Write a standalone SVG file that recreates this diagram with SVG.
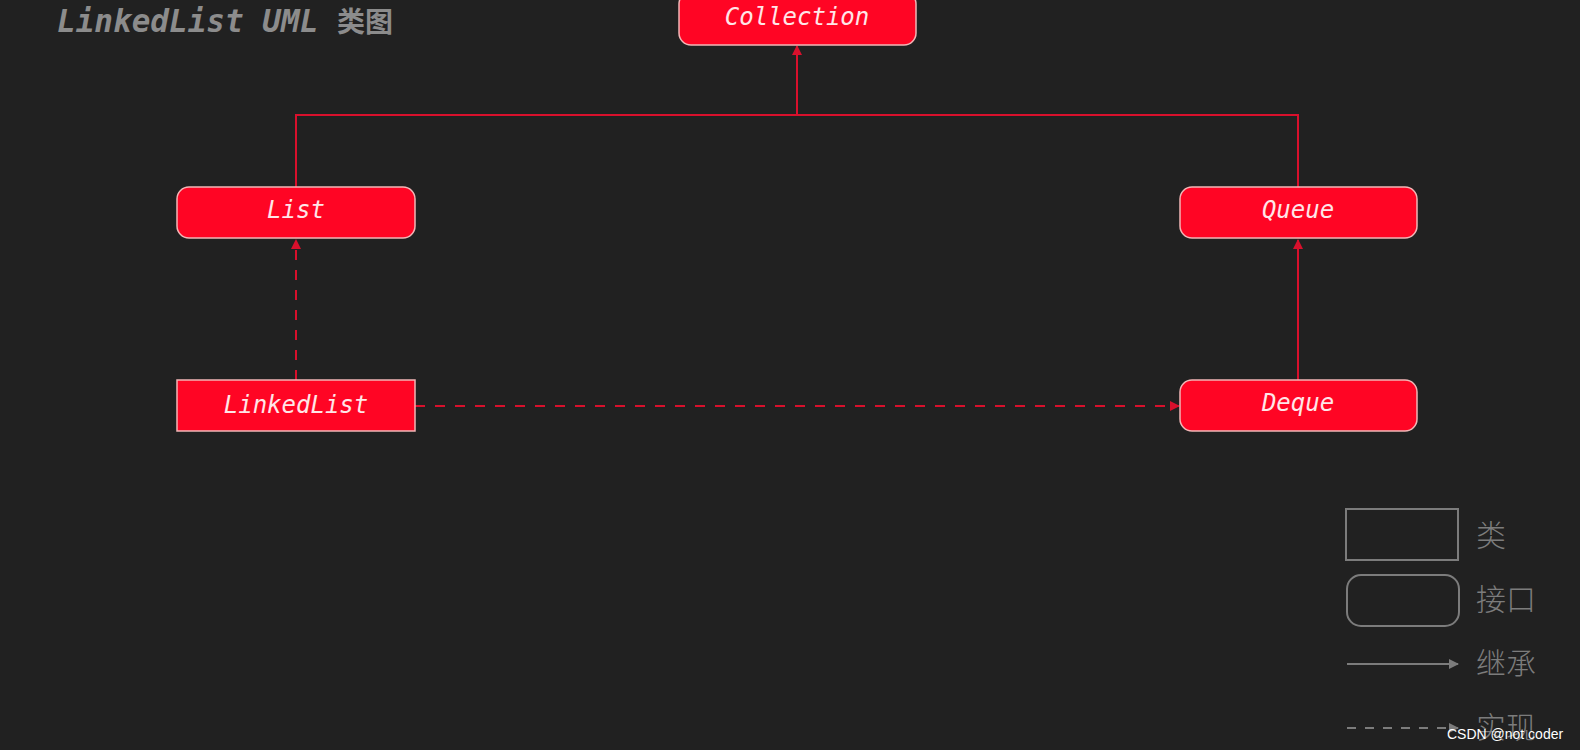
<svg xmlns="http://www.w3.org/2000/svg" width="1580" height="750" viewBox="0 0 1580 750">
<style>
.node{fill:#ff0524;stroke:#f2b6b6;stroke-width:1.5}
.lbl{font-family:"DejaVu Sans Mono","Liberation Mono",monospace;font-style:italic;font-size:24px;fill:#ffe6e8;text-anchor:middle}
.edge{stroke:#d8102c;stroke-width:2;fill:none}
.dash{stroke-dasharray:10 10}
.leg{stroke:#7c7c7c;stroke-width:2;fill:none}
.legt{font-family:"Noto Sans CJK SC","Noto Sans",sans-serif;font-weight:300;font-size:30px;fill:#7c7c7c}
</style>
<defs>
<marker id="ah" viewBox="0 0 10 10" refX="9" refY="5" markerWidth="5" markerHeight="5" orient="auto" markerUnits="strokeWidth">
<path d="M0,0 L10,5 L0,10 z" fill="#d8102c"/>
</marker>
<marker id="lah" viewBox="0 0 10 10" refX="9" refY="5" markerWidth="5" markerHeight="5" orient="auto" markerUnits="strokeWidth">
<path d="M0,0 L10,5 L0,10 z" fill="#7c7c7c"/>
</marker>
</defs>
<rect width="1580" height="750" fill="#212121"/>
<text x="57" y="32" font-family="DejaVu Sans Mono,'Noto Sans CJK SC',monospace" font-weight="bold" font-style="italic" font-size="31" fill="#8c8c8c">LinkedList UML</text>
<text x="337" y="32" font-family="'Noto Sans CJK SC',sans-serif" font-weight="bold" font-size="28" fill="#8c8c8c">类图</text>
<g id="connectors">
<path class="edge" d="M296,187 V115 H1298 V187"/>
<path class="edge" d="M797,115 V46" marker-end="url(#ah)"/>
<path class="edge dash" d="M296,380 V240" marker-end="url(#ah)"/>
<path class="edge dash" d="M415,406 H1179" marker-end="url(#ah)"/>
<path class="edge" d="M1298,380 V240" marker-end="url(#ah)"/>
</g>
<g id="Collection">
<rect class="node" x="679" y="-8" width="237" height="53" rx="12"/>
<text class="lbl" x="797" y="25">Collection</text>
</g>
<g id="List">
<rect class="node" x="177" y="187" width="238" height="51" rx="12"/>
<text class="lbl" x="296" y="218">List</text>
</g>
<g id="Queue">
<rect class="node" x="1180" y="187" width="237" height="51" rx="12"/>
<text class="lbl" x="1298" y="218">Queue</text>
</g>
<g id="LinkedList">
<rect class="node" x="177" y="380" width="238" height="51"/>
<text class="lbl" x="296" y="413">LinkedList</text>
</g>
<g id="Deque">
<rect class="node" x="1180" y="380" width="237" height="51" rx="12"/>
<text class="lbl" x="1298" y="411">Deque</text>
</g>
<g id="legend">
<rect class="leg" x="1346" y="509" width="112" height="51"/>
<text class="legt" x="1476" y="546">类</text>
<rect class="leg" x="1347" y="575" width="112" height="51" rx="14"/>
<text class="legt" x="1476" y="610">接口</text>
<path class="leg" d="M1347,664 H1458" marker-end="url(#lah)"/>
<text class="legt" x="1476" y="674">继承</text>
<path class="leg" d="M1347,728 H1458" stroke-dasharray="9 9" marker-end="url(#lah)"/>
<text class="legt" x="1476" y="738">实现</text>
</g>
<text x="1447" y="739" font-family="Liberation Sans,Arial,sans-serif" font-size="14" fill="#ffffff">CSDN @not coder</text>
</svg>
